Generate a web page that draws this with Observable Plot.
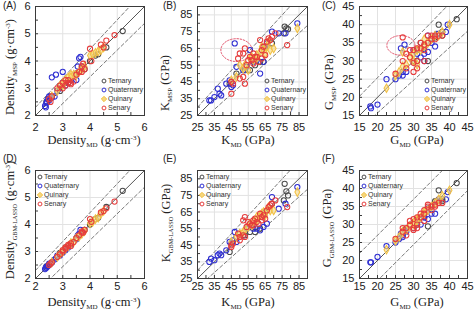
<!DOCTYPE html>
<html><head><meta charset="utf-8">
<script src="https://cdn.jsdelivr.net/npm/d3@7"></script>
<script src="https://cdn.jsdelivr.net/npm/@observablehq/plot@0.6"></script>
<style>
html,body{margin:0;padding:0;background:#fff;}
#chart{position:relative;width:474px;height:310px;overflow:hidden;background:#fff;}
#chart svg{position:absolute;left:0;top:0;}
</style></head><body><div id="chart"></div>
<script>
// ---------- categories ----------
const series = ["Ternary", "Quaternary", "Quinary", "Senary"];

// ---------- Density (g·cm-3): MD, MSP, GBM-LASSO  (one sub-array per series) ----------
const densityMD = [
  [5.2, 4.3, 4.2, 3.8, 3.1, 2.9, 3.3, 4.6, 2.6, 3.5, 4.0, 2.4],
  [2.35, 2.38, 2.4, 2.42, 2.45, 2.5, 2.55, 2.6, 2.6, 2.75, 3.0, 2.9, 3.1, 3.2, 3.3, 3.5, 3.55, 3.6, 3.65, 3.7, 2.7, 2.8, 3.0, 2.5],
  [2.8, 2.9, 3.0, 3.1, 3.2, 3.3, 3.4, 3.5, 3.6, 3.7, 4.0, 4.1, 4.2, 4.3, 4.4, 3.3, 3.0, 2.6, 3.8, 4.5],
  [2.5, 2.55, 2.6, 2.8, 2.9, 3.0, 3.0, 3.1, 3.1, 3.2, 3.2, 3.3, 3.4, 3.5, 3.6, 3.7, 3.7, 3.75, 3.8, 4.0, 4.05, 4.4, 4.5, 4.6, 4.9, 3.3]
];
const densityMSP = [
  [5.1, 4.25, 4.2, 3.7, 3.2, 2.9, 3.3, 4.5, 2.7, 3.55, 4.0, 2.5],
  [2.35, 2.3, 2.45, 2.5, 2.6, 2.55, 2.7, 2.65, 3.4, 3.5, 3.6, 3.0, 3.1, 3.2, 3.3, 3.3, 3.8, 4.1, 4.15, 3.8, 2.7, 2.9, 3.2, 2.7],
  [2.9, 3.1, 3.1, 3.3, 3.4, 3.5, 3.5, 3.5, 3.6, 3.7, 4.2, 4.25, 4.3, 4.35, 4.4, 3.4, 3.2, 2.7, 3.8, 4.5],
  [2.6, 2.5, 2.7, 3.0, 3.1, 3.2, 3.0, 3.1, 3.3, 3.3, 3.2, 3.2, 3.25, 3.5, 3.6, 3.8, 3.6, 3.9, 3.7, 4.45, 4.0, 4.6, 4.5, 4.75, 4.95, 3.15]
];
const densityGBM = [
  [5.25, 4.25, 4.2, 3.8, 3.15, 2.95, 3.3, 4.65, 2.6, 3.5, 4.0, 2.45],
  [2.35, 2.4, 2.4, 2.45, 2.45, 2.5, 2.55, 2.6, 2.6, 2.75, 3.0, 2.85, 3.05, 3.15, 3.25, 3.45, 3.6, 3.65, 3.8, 3.7, 2.7, 2.85, 2.95, 2.55],
  [2.8, 2.9, 3.0, 3.1, 3.2, 3.3, 3.35, 3.5, 3.55, 3.65, 4.05, 4.1, 4.2, 4.25, 4.4, 3.3, 3.0, 2.6, 3.75, 4.5],
  [2.5, 2.55, 2.6, 2.8, 2.9, 3.0, 3.05, 3.1, 3.15, 3.2, 3.25, 3.3, 3.35, 3.5, 3.6, 3.75, 3.7, 3.7, 3.8, 4.2, 4.1, 4.45, 4.5, 4.6, 4.85, 3.2]
];

// ---------- Bulk modulus K (GPa) ----------
const bulkMD = [
  [76.5, 77.5, 78.5, 76, 69, 62, 59, 56, 53, 60, 65, 48, 44, 64],
  [32, 33, 35, 37, 38, 39, 42, 44, 45, 46, 47, 48, 52, 54, 56, 58, 60, 62, 64, 66, 69, 73, 77, 84],
  [45, 48, 50, 52, 53, 55, 56, 57, 58, 60, 60, 62, 63, 64, 65, 66, 67, 68, 70, 84],
  [45, 45, 46, 49, 50, 50, 52, 52, 53, 53, 54, 55, 56, 57, 58, 58, 59, 60, 61, 62, 63, 63, 64, 65, 66, 67, 68, 69, 71, 78]
];
const bulkMSP = [
  [78, 77, 76.5, 74, 68, 57, 55, 52, 52, 60, 66, 50, 44, 57],
  [34, 34, 36, 41, 38, 37, 44, 46, 42, 43, 68, 54, 52, 54, 64, 57, 58, 50, 57, 68, 75, 74, 74, 80],
  [46, 48, 55, 53, 55, 52, 59, 60, 58, 59, 61, 63, 66, 64, 62, 66, 69, 64, 65, 77],
  [38, 45, 44, 59, 62, 47, 62, 48, 65, 44, 55, 58, 60, 58, 56, 62, 60, 60, 57, 70, 64, 59, 66, 61, 69, 71, 70, 72, 74, 67]
];
const bulkGBM = [
  [82, 77.5, 75, 72, 70, 55, 53, 53, 51, 61, 65, 50, 41, 64],
  [35, 37, 36, 39, 40, 39, 42, 47, 46, 48, 53, 47, 51, 55, 57, 55, 55, 54, 56, 58, 74, 67, 70, 80],
  [47, 50, 52, 53, 54, 56, 58, 57, 59, 60, 62, 63, 64, 65, 63, 66, 68, 66, 66, 77],
  [44, 45, 46, 52, 50, 48, 60, 51, 62, 50, 56, 59, 58, 57, 57, 60, 61, 59, 58, 64, 62, 60, 63, 61, 66, 68, 69, 70, 72, 68]
];

// ---------- Shear modulus G (GPa) ----------
const shearMD = [
  [42, 37, 38, 36, 34, 31, 30, 31, 32, 33, 35, 38],
  [18, 18.2, 20, 22.5, 25, 26, 27, 27, 28, 27.5, 26.5, 30, 31, 32, 33, 34, 34, 35, 36, 37, 39, 39.5, 36.5, 33],
  [22.5, 25, 26, 27, 27, 28, 29, 30, 30, 31, 31, 32, 33, 33, 34, 35, 36, 37, 38, 40],
  [25, 27, 27, 28, 28, 29, 29, 30, 30, 30, 31, 31, 31, 32, 32, 33, 33, 33, 34, 34, 35, 35, 36, 37, 38, 36]
];
const shearMSP = [
  [41.5, 40, 38, 36.5, 30, 30, 30, 33, 35, 34, 36, 37],
  [17.5, 17, 18, 25, 25, 26, 27, 26, 27, 34.5, 33.5, 33, 32, 31, 32, 32.5, 37, 35, 34, 37.5, 38, 40, 37.5, 30],
  [22.5, 26, 27, 28.5, 32.5, 29, 31, 32, 30, 33, 29, 33, 34, 36, 35, 36, 37, 37, 38, 40],
  [26.5, 36.5, 30, 28, 32, 31, 33, 27, 29.5, 33, 30, 33.5, 28, 33.5, 35, 33, 34.5, 30, 37, 35, 37, 36, 37, 37, 37, 36]
];
const shearGBM = [
  [41.5, 39.5, 37, 36.5, 29.5, 30, 30.5, 31, 32, 33, 35, 36.5],
  [19.5, 19.5, 21, 24, 25, 26, 27, 26.5, 28, 28.5, 27.5, 29, 31, 30, 32, 31.5, 34.5, 33, 33, 37, 37, 39, 36.5, 32],
  [23, 25.5, 26.5, 28, 28, 28.5, 29.5, 30.5, 30, 31.5, 31, 32, 33, 33.5, 34, 35, 36, 37, 38, 39.5],
  [26, 28, 29, 27, 29, 30, 31, 28.5, 29, 31.5, 30, 32, 29, 32, 33, 33, 34, 31, 35.5, 35, 35, 34, 35.5, 36, 36, 35]
];

// ---------- tick labels ----------
const densityTicks = [2, 3, 4, 5, 6];
const densityMinor = [2, 2.5, 3, 3.5, 4, 4.5, 5, 5.5, 6];
const bulkTicks = [25, 35, 45, 55, 65, 75, 85];
const bulkMinor = [25, 30, 35, 40, 45, 50, 55, 60, 65, 70, 75, 80, 85, 90];
const shearTicks = [15, 20, 25, 30, 35, 40, 45];
const shearMinor = [15, 17.5, 20, 22.5, 25, 27.5, 30, 32.5, 35, 37.5, 40, 42.5, 45];

// ---------- styling / layout ----------
const W = 474, H = 310;
const seriesColors = ["#4a4a4a", "#2f2fd2", "#f2c043", "#e63c3c"];
const seriesSymbols = ["circle", "circle", "diamond", "circle"];

function records(xs, ys) {
  return series.flatMap((s, i) => xs[i].map((x, j) => ({series: s, x, y: ys[i][j]})));
}

const panels = [
  {tag: "(A)", frame: [35, 144, 6, 115], domain: [2, 6], ticks: densityTicks, minor: densityMinor,
   data: records(densityMD, densityMSP), up: [1.07, 0.16], lo: [0.98, -0.5],
   ylab: ["Density", "MSP", true], xlab: ["Density", "MD", true], legend: "br"},
  {tag: "(B)", frame: [197, 307, 6, 115], domain: [25, 90], ticks: bulkTicks, minor: bulkMinor,
   data: records(bulkMD, bulkMSP), up: [1.1, 2.4], lo: [0.91, -3.2], ellipse: [48, 64, 9.2, 6.8],
   ylab: ["K", "MSP", false], xlab: ["K", "MD", false], legend: "br"},
  {tag: "(C)", frame: [359, 467, 6, 115], domain: [15, 45], ticks: shearTicks, minor: shearMinor,
   data: records(shearMD, shearMSP), up: [1.02, 5], lo: [0.9, -2.3], ellipse: [26.5, 34.3, 3.9, 2.7],
   ylab: ["G", "MSP", false], xlab: ["G", "MD", false], legend: "br"},
  {tag: "(D)", frame: [35, 144, 170, 278], domain: [2, 6], ticks: densityTicks, minor: densityMinor,
   data: records(densityMD, densityGBM), up: [1.07, 0.16], lo: [0.98, -0.5],
   ylab: ["Density", "GBM-LASSO", true], xlab: ["Density", "MD", true], legend: "tl"},
  {tag: "(E)", frame: [197, 307, 170, 278], domain: [25, 90], ticks: bulkTicks, minor: bulkMinor,
   data: records(bulkMD, bulkGBM), up: [1.1, 2.4], lo: [0.91, -3.2],
   ylab: ["K", "GBM-LASSO", false], xlab: ["K", "MD", false], legend: "tl"},
  {tag: "(F)", frame: [359, 467, 170, 278], domain: [15, 45], ticks: shearTicks, minor: shearMinor,
   data: records(shearMD, shearGBM), up: [1, 7], lo: [1, -5.6],
   ylab: ["G", "GBM-LASSO", false], xlab: ["G", "MD", false], legend: "tl"}
];

const chart = document.getElementById("chart");

panels.forEach((p, k) => {
  const row = Math.floor(k / 3);
  const [d0, d1] = p.domain;
  const lineDefs = [{a: 1, b: 0, k: "solid"}, {a: p.up[0], b: p.up[1], k: "dash"}, {a: p.lo[0], b: p.lo[1], k: "dash"}];
  const segs = lineDefs.flatMap((l, i) => [
    {id: i, k: l.k, x: d0, y: l.a * d0 + l.b},
    {id: i, k: l.k, x: d1, y: l.a * d1 + l.b}
  ]);
  const marks = [
    Plot.gridX(p.ticks, {stroke: "#e2e2e2", strokeOpacity: 1}),
    Plot.gridY(p.ticks, {stroke: "#e2e2e2", strokeOpacity: 1}),
    Plot.line(segs.filter(d => d.k === "dash"), {x: "x", y: "y", z: "id", stroke: "#6a6a6a", strokeWidth: 0.9, strokeDasharray: "3.5,2.5", clip: true}),
    Plot.line(segs.filter(d => d.k === "solid"), {x: "x", y: "y", stroke: "#555", strokeWidth: 1, clip: true})
  ];
  if (p.ellipse) {
    const [cx, cy, rx, ry] = p.ellipse;
    const pts = d3.range(0, 361, 6).map(t => ({x: cx + rx * Math.cos(t * Math.PI / 180), y: cy + ry * Math.sin(t * Math.PI / 180)}));
    marks.push(Plot.line(pts, {x: "x", y: "y", stroke: "#e2526a", strokeWidth: 1, strokeDasharray: "1.6,1.6"}));
  }
  marks.push(
    Plot.dot(p.data, {x: "x", y: "y", stroke: "series", symbol: "series", r: 2.6, strokeWidth: 1.05,
      fill: d => d.series === "Quinary" ? "#f6d77e" : "none", fillOpacity: 0.6, clip: true}),
    Plot.frame({stroke: "#3a3a3a", strokeWidth: 1}),
    Plot.axisX(p.ticks, {tickSize: 0, tickPadding: row ? 4 : 8, label: null}),
    Plot.axisY(p.ticks, {tickSize: 0, tickPadding: 5, label: null}),
    Plot.axisX(p.minor, {tickSize: 3, dy: -3, tickFormat: () => "", label: null, stroke: "#3a3a3a"}),
    Plot.axisY(p.minor, {tickSize: 3, dx: 3, tickFormat: () => "", label: null, stroke: "#3a3a3a"})
  );
  const plot = Plot.plot({
    width: W, height: H,
    marginLeft: p.frame[0], marginRight: W - p.frame[1],
    marginTop: p.frame[2], marginBottom: H - p.frame[3],
    style: {background: "transparent", fontFamily: "'Liberation Sans', Arial, sans-serif", fontSize: "11px", color: "#222", overflow: "visible"},
    x: {domain: p.domain, label: null},
    y: {domain: p.domain, label: null},
    color: {domain: series, range: seriesColors},
    symbol: {domain: series, range: seriesSymbols},
    marks
  });
  chart.appendChild(plot);
});

// ---------- overlay text: panel tags, axis titles, legends ----------
const svg = d3.select(chart).append("svg").attr("width", W).attr("height", H);
const serif = "'Liberation Serif','Times New Roman',serif";
const sans = "'Liberation Sans',Arial,sans-serif";

function title(sel, [main, sub, dens]) {
  sel.style("font-family", serif).style("font-size", "12.5px").attr("fill", "#222");
  sel.append("tspan").text(main);
  sel.append("tspan").attr("font-size", sub.length > 4 ? "6.3px" : "7px").attr("dy", 2.5).text(sub);
  if (dens) {
    sel.append("tspan").attr("dy", -2.5).text(" (g·cm");
    sel.append("tspan").attr("font-size", "7px").attr("dy", -4.5).text("-3");
    sel.append("tspan").attr("dy", 4.5).text(")");
  } else {
    sel.append("tspan").attr("dy", -2.5).text(" (GPa)");
  }
}

const symGen = {circle: d3.symbolCircle, diamond: d3.symbolDiamond2};
panels.forEach((p, k) => {
  const [x0, x1, y0, y1] = p.frame;
  const col = k % 3, row = Math.floor(k / 3);
  // tag
  svg.append("text").attr("x", [3, 163, 322][col]).attr("y", row ? 162 : 9)
    .style("font-family", sans).style("font-size", "10px").attr("fill", "#222").text(p.tag);
  // x title
  title(svg.append("text").attr("text-anchor", "middle")
    .attr("x", [94, 248, 417][col]).attr("y", row ? 306 : 144), p.xlab);
  // y title
  const yc = [[67, 83, 82], [220, 223, 228]][row][col];
  const yx = [[14, 169, 333], [14, 170, 331]][row][col];
  title(svg.append("text").attr("text-anchor", "middle")
    .attr("transform", `translate(${yx},${yc}) rotate(-90)`), p.ylab);
  // legend
  const lx = p.legend === "br" ? x1 - 40 : x0 + 5;
  const ly = p.legend === "br" ? y1 - 34 : y0 + 7;
  series.forEach((s, i) => {
    const yy = ly + i * 9;
    svg.append("path").attr("transform", `translate(${lx},${yy})`)
      .attr("d", d3.symbol(symGen[seriesSymbols[i]], seriesSymbols[i] === "diamond" ? 18 : 12)())
      .attr("fill", s === "Quinary" ? "#f6d77e" : "none").attr("stroke", seriesColors[i]).attr("stroke-width", 1);
    svg.append("text").attr("x", lx + 4).attr("y", yy).attr("dy", "0.35em")
      .style("font-family", sans).style("font-size", "7px").attr("fill", "#333").text(s);
  });
});
</script></body></html>
